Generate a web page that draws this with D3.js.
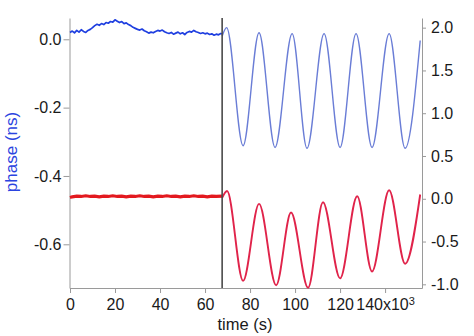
<!DOCTYPE html>
<html>
<head>
<meta charset="utf-8">
<script src="https://cdn.jsdelivr.net/npm/d3@7"></script>
<style>
  html, body { margin: 0; padding: 0; background: #fff; }
  svg text { font-family: "Liberation Sans", Arial, sans-serif; }
</style>
</head>
<body>
<svg id="chart" width="474" height="336"></svg>
<script>
// time in units of 10^3 s
const splitTime = 67.6;

// phase drift before the split (left axis, ns)
const blueDrift = [
  [0, 0.020], [1, 0.024], [2, 0.019], [3, 0.026], [4, 0.021], [5, 0.028], [6, 0.023], [7, 0.020],
  [8, 0.026], [9, 0.029], [10, 0.034], [11, 0.040], [12, 0.044], [13, 0.041], [14, 0.046], [15, 0.043],
  [16, 0.049], [17, 0.047], [18, 0.052], [19, 0.050], [20, 0.057], [21, 0.053], [22, 0.049], [23, 0.052],
  [24, 0.046], [25, 0.048], [26, 0.043], [27, 0.040], [28, 0.035], [29, 0.032], [30, 0.029], [31, 0.027],
  [32, 0.030], [33, 0.025], [34, 0.022], [35, 0.018], [36, 0.021], [37, 0.019], [38, 0.023], [39, 0.026],
  [40, 0.024], [41, 0.027], [42, 0.022], [43, 0.019], [44, 0.017], [45, 0.020], [46, 0.015], [47, 0.018],
  [48, 0.021], [49, 0.016], [50, 0.019], [51, 0.014], [52, 0.020], [53, 0.023], [54, 0.021], [55, 0.026],
  [56, 0.022], [57, 0.020], [58, 0.017], [59, 0.019], [60, 0.016], [61, 0.018], [62, 0.014], [63, 0.016],
  [64, 0.012], [65, 0.015], [66, 0.013], [67, 0.017], [67.6, 0.016]
];

// flat reference trace before the split (left axis, ns)
const redFlat = [
  [0, -0.463], [1, -0.461], [3, -0.459], [5, -0.460], [7, -0.458], [9, -0.460], [11, -0.459],
  [13, -0.461], [15, -0.459], [17, -0.460], [19, -0.458], [21, -0.460], [23, -0.459], [25, -0.461],
  [27, -0.459], [29, -0.460], [31, -0.458], [33, -0.460], [35, -0.459], [37, -0.461], [39, -0.459],
  [41, -0.460], [43, -0.458], [45, -0.460], [47, -0.459], [49, -0.461], [51, -0.459], [53, -0.460],
  [55, -0.458], [57, -0.460], [59, -0.459], [61, -0.461], [63, -0.459], [65, -0.460], [67.6, -0.459]
];

// oscillations after the split (right axis): turning points of each trace
const blueWave = [
  [67.6, 1.90], [69.6, 2.00], [76.9, 0.62], [84.0, 1.94], [91.1, 0.60], [98.7, 1.93], [105.3, 0.59],
  [112.9, 1.93], [120.0, 0.60], [127.1, 1.93], [134.2, 0.60], [141.8, 1.93], [148.9, 0.59], [155.6, 1.85]
];
const redWave = [
  [67.6, 0.01], [69.8, 0.09], [76.9, -0.96], [84.0, -0.06], [91.6, -1.01], [98.2, -0.16], [105.8, -1.04],
  [112.4, -0.04], [120.0, -0.93], [127.6, 0.03], [134.2, -0.85], [141.8, 0.10], [148.9, -0.76], [155.6, 0.05]
];

const xTicks = [0, 20, 40, 60, 80, 100, 120, 140];
const leftTicks = [0, -0.2, -0.4, -0.6];
const rightTicks = [2.0, 1.5, 1.0, 0.5, 0.0, -0.5, -1.0];

const svg = d3.select("#chart");
const plot = { left: 70, right: 422, top: 18, bottom: 288 };

const x = d3.scaleLinear().domain([0, 156.4]).range([plot.left, plot.right]);
const yL = d3.scaleLinear().domain([-0.7279, 0.0623]).range([plot.bottom, plot.top]);
const yR = d3.scaleLinear().domain([-1.043, 2.113]).range([plot.bottom, plot.top]);

const fmt = v => d3.format(".1f")(v).replace("\u2212", "-");
const axisColor = "#9a9a9a";
const textColor = "#1a1a1a";

function styleAxis(g) {
  g.select(".domain").attr("stroke", axisColor).attr("stroke-width", 1);
  g.selectAll(".tick line").attr("stroke", axisColor);
  g.selectAll(".tick text").attr("fill", textColor).style("font-size", "16px");
}

// left axis
svg.append("g")
  .attr("transform", `translate(${plot.left - 0.5},0)`)
  .call(d3.axisLeft(yL).tickValues(leftTicks).tickFormat(fmt).tickSize(6).tickSizeOuter(0).tickPadding(2))
  .call(styleAxis);

// right axis
svg.append("g")
  .attr("transform", `translate(${plot.right},0)`)
  .call(d3.axisRight(yR).tickValues(rightTicks).tickFormat(fmt).tickSize(4).tickSizeOuter(0).tickPadding(5))
  .call(styleAxis);

// bottom axis
const xAxisG = svg.append("g")
  .attr("transform", `translate(0,${plot.bottom})`)
  .call(d3.axisBottom(x).tickValues(xTicks).tickFormat(d => d).tickSize(5).tickSizeOuter(0).tickPadding(6))
  .call(styleAxis);

// last x label carries the 10^3 multiplier
xAxisG.selectAll(".tick text")
  .filter(d => d === xTicks[xTicks.length - 1])
  .text(null)
  .call(t => {
    t.append("tspan").text(xTicks[xTicks.length - 1] + "x10");
    t.append("tspan").attr("dy", "-0.45em").style("font-size", "11px").text("3");
  });

// traces
const line = (ys) => d3.line().x(d => x(d[0])).y(d => ys(d[1]));

svg.append("path").datum(redFlat)
  .attr("fill", "none").attr("stroke", "#e3191f").attr("stroke-width", 3.2)
  .attr("d", line(yL));

svg.append("path").datum(blueDrift)
  .attr("fill", "none").attr("stroke", "#1f3fe0").attr("stroke-width", 1.7)
  .attr("stroke-linejoin", "round")
  .attr("d", line(yL));

svg.append("path").datum(blueWave)
  .attr("fill", "none").attr("stroke", "#6a7dd6").attr("stroke-width", 1.4)
  .attr("d", line(yR).curve(d3.curveMonotoneX));

svg.append("path").datum(redWave)
  .attr("fill", "none").attr("stroke", "#e0234a").attr("stroke-width", 1.9)
  .attr("d", line(yR).curve(d3.curveMonotoneX));

// split marker
svg.append("line")
  .attr("x1", x(splitTime)).attr("x2", x(splitTime))
  .attr("y1", plot.top).attr("y2", plot.bottom)
  .attr("stroke", "#4a4a4a").attr("stroke-width", 1.6);

// axis titles
svg.append("text")
  .attr("transform", `translate(17,152) rotate(-90)`)
  .attr("text-anchor", "middle")
  .attr("fill", "#2b44e0")
  .style("font-size", "17px")
  .text("phase (ns)");

svg.append("text")
  .attr("x", 245).attr("y", 330)
  .attr("text-anchor", "middle")
  .attr("fill", textColor)
  .style("font-size", "16.5px")
  .text("time (s)");
</script>
</body>
</html>
